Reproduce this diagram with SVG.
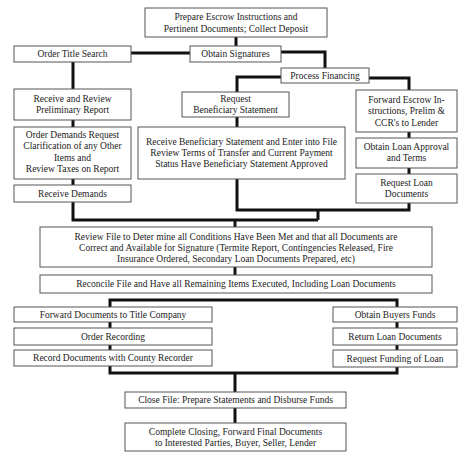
<svg xmlns="http://www.w3.org/2000/svg" width="474" height="459" viewBox="0 0 474 459">
<style>
.b{fill:#fff;stroke:#555;stroke-width:1}
.c{fill:none;stroke:#111;stroke-width:3}
text{font-family:"Liberation Serif","Times New Roman",serif;font-size:9.5px;fill:#222;text-anchor:middle}
</style>
<rect width="474" height="459" fill="#fff"/>
<g id="connectors">
<path class="c" d="M236 37V46"/>
<path class="c" d="M131 53H190"/>
<path class="c" d="M281 52H325V68"/>
<path class="c" d="M281 77H237V92"/>
<path class="c" d="M369 78H409V90"/>
<path class="c" d="M73 62V89M73 120V127M73 179V185"/>
<path class="c" d="M73 202V220H318"/>
<path class="c" d="M237 117V127"/>
<path class="c" d="M409 132V138M409 168V174"/>
<path class="c" d="M237 179V210H409V203"/>
<path class="c" d="M318 210V220"/>
<path class="c" d="M235 220V227"/>
<path class="c" d="M235 267V275"/>
<path class="c" d="M110 300H397V373H110Z"/>
<path class="c" d="M235 373V392M235 408V423"/>
</g>
<g id="prepare"><rect class="b" x="145" y="8" width="182" height="29"/><text x="236" y="20">Prepare Escrow Instructions  and</text><text x="236" y="31.5">Pertinent Documents; Collect Deposit</text></g>
<g id="signatures"><rect class="b" x="190" y="46" width="91" height="16"/><text x="235.5" y="57">Obtain Signatures</text></g>
<g id="title"><rect class="b" x="14" y="46" width="117" height="16"/><text x="72.5" y="57">Order Title Search</text></g>
<g id="financing"><rect class="b" x="281" y="68" width="88" height="15"/><text x="325" y="79">Process Financing</text></g>
<g id="reqben"><rect class="b" x="182" y="92" width="107" height="25"/><text x="235.5" y="102">Request</text><text x="235.5" y="113">Beneficiary Statement</text></g>
<g id="forward"><rect class="b" x="356" y="90" width="101" height="42"/><text x="406.5" y="103">Forward Escrow In-</text><text x="406.5" y="114">structions, Prelim &amp;</text><text x="406.5" y="126">CCR's to Lender</text></g>
<g id="prelim"><rect class="b" x="14" y="89" width="117" height="31"/><text x="72.5" y="102">Receive and Review</text><text x="72.5" y="113">Preliminary Report</text></g>
<g id="demands"><rect class="b" x="14" y="127" width="117" height="52"/><text x="72.5" y="138">Order Demands Request</text><text x="72.5" y="149">Clarification  of any Other</text><text x="72.5" y="160.5">Items and</text><text x="72.5" y="172">Review Taxes on Report</text></g>
<g id="recdemands"><rect class="b" x="14" y="185" width="117" height="17"/><text x="72.5" y="196.5">Receive Demands</text></g>
<g id="recben"><rect class="b" x="138" y="127" width="207" height="52"/><text x="241.5" y="145">Receive Beneficiary Statement  and Enter into File</text><text x="241.5" y="156">Review Terms  of Transfer and Current Payment</text><text x="241.5" y="167">Status  Have Beneficiary Statement  Approved</text></g>
<g id="loanapproval"><rect class="b" x="356" y="138" width="101" height="30"/><text x="406.5" y="150">Obtain Loan Approval</text><text x="406.5" y="161">and Terms</text></g>
<g id="reqloan"><rect class="b" x="356" y="174" width="101" height="29"/><text x="406.5" y="185.5">Request  Loan</text><text x="406.5" y="197">Documents</text></g>
<g id="review"><rect class="b" x="40" y="227" width="392" height="40"/><text x="236" y="239.5">Review File to Deter mine all Conditions Have  Been Met and that all Documents  are</text><text x="236" y="250.5">Correct and Available  for Signature  (Termite  Report, Contingencies Released, Fire</text><text x="236" y="261.5">Insurance  Ordered, Secondary Loan Documents  Prepared, etc)</text></g>
<g id="reconcile"><rect class="b" x="40" y="275" width="392" height="18"/><text x="236" y="287">Reconcile File and Have all Remaining Items Executed,  Including  Loan Documents</text></g>
<g id="fwdtitle"><rect class="b" x="14" y="307" width="198" height="15"/><text x="113" y="317.5">Forward  Documents  to Title Company</text></g>
<g id="orderrec"><rect class="b" x="14" y="328" width="198" height="17"/><text x="113" y="339.5">Order Recording</text></g>
<g id="recorddocs"><rect class="b" x="14" y="350" width="198" height="16"/><text x="113" y="361">Record Documents  with County  Recorder</text></g>
<g id="buyers"><rect class="b" x="333" y="307" width="124" height="15"/><text x="395" y="317.5">Obtain Buyers  Funds</text></g>
<g id="retloan"><rect class="b" x="333" y="328" width="124" height="17"/><text x="395" y="339.5">Return Loan Documents</text></g>
<g id="funding"><rect class="b" x="333" y="350" width="124" height="17"/><text x="395" y="361.5">Request  Funding  of Loan</text></g>
<g id="close"><rect class="b" x="125" y="392" width="221" height="16"/><text x="235.5" y="403">Close File:  Prepare Statements  and Disburse  Funds</text></g>
<g id="complete"><rect class="b" x="125" y="423" width="221" height="28"/><text x="235.5" y="434.5">Complete  Closing, Forward Final Documents</text><text x="235.5" y="445.5">to Interested  Parties, Buyer, Seller, Lender</text></g>
</svg>
